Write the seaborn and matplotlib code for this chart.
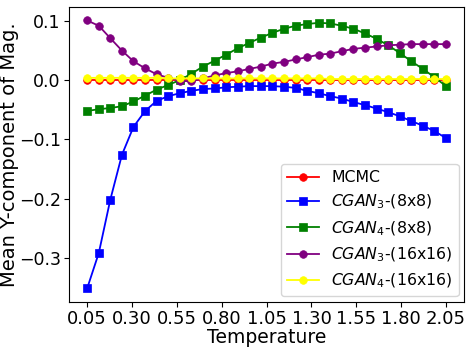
import matplotlib
matplotlib.use("Agg")
import matplotlib.pyplot as plt
import seaborn as sns
import numpy as np
import pandas as pd

temperature = [0.05, 0.115, 0.179, 0.244, 0.308, 0.373, 0.437, 0.502,
               0.566, 0.631, 0.695, 0.760, 0.824, 0.889, 0.953, 1.018,
               1.082, 1.147, 1.211, 1.276, 1.340, 1.405, 1.469, 1.534,
               1.598, 1.663, 1.727, 1.792, 1.856, 1.921, 1.985, 2.05]

mcmc = [0.000, 0.000, 0.000, 0.000, 0.000, 0.000, 0.000, 0.000,
        0.000, 0.000, 0.000, 0.000, 0.000, 0.000, 0.000, 0.000,
        0.000, 0.000, 0.000, 0.000, 0.000, 0.000, 0.000, 0.000,
        0.000, 0.000, 0.000, 0.000, 0.000, 0.000, 0.000, 0.000]

cgan3_8 = [-0.352, -0.292, -0.202, -0.126, -0.079, -0.052, -0.035, -0.027,
           -0.022, -0.018, -0.015, -0.014, -0.012, -0.011, -0.010, -0.010,
           -0.010, -0.011, -0.013, -0.018, -0.022, -0.027, -0.031, -0.037,
           -0.042, -0.048, -0.054, -0.061, -0.069, -0.077, -0.086, -0.098]

cgan4_8 = [-0.052, -0.049, -0.047, -0.044, -0.036, -0.026, -0.016, -0.008,
           0.000, 0.011, 0.023, 0.033, 0.043, 0.054, 0.063, 0.072,
           0.080, 0.087, 0.092, 0.095, 0.097, 0.096, 0.092, 0.087,
           0.079, 0.070, 0.059, 0.046, 0.032, 0.019, 0.005, -0.010]

cgan3_16 = [0.101, 0.092, 0.071, 0.050, 0.032, 0.020, 0.010, 0.004,
            -0.001, -0.002, 0.003, 0.008, 0.012, 0.015, 0.019, 0.023,
            0.028, 0.031, 0.035, 0.039, 0.043, 0.045, 0.049, 0.053,
            0.055, 0.057, 0.059, 0.060, 0.061, 0.061, 0.061, 0.061]

cgan4_16 = [0.004, 0.004, 0.004, 0.004, 0.004, 0.004, 0.004, 0.003,
            0.003, 0.003, 0.003, 0.003, 0.003, 0.003, 0.003, 0.003,
            0.003, 0.003, 0.003, 0.003, 0.003, 0.002, 0.002, 0.002,
            0.002, 0.002, 0.002, 0.002, 0.002, 0.002, 0.002, 0.002]

xticks = [0.05, 0.30, 0.55, 0.80, 1.05, 1.30, 1.55, 1.80, 2.05]
xtick_labels = ["0.05", "0.30", "0.55", "0.80", "1.05", "1.30", "1.55", "1.80", "2.05"]

series = [
    ("MCMC", mcmc, "red", "o"),
    (r"$CGAN_3$-(8x8)", cgan3_8, "blue", "s"),
    (r"$CGAN_4$-(8x8)", cgan4_8, "green", "s"),
    (r"$CGAN_3$-(16x16)", cgan3_16, "purple", "o"),
    (r"$CGAN_4$-(16x16)", cgan4_16, "yellow", "o"),
]

plt.rcParams["font.family"] = ["DejaVu Sans"]
fig, ax = plt.subplots(figsize=(4.74, 3.53), dpi=100)
fig.subplots_adjust(left=0.146, right=0.979, top=0.980, bottom=0.145)

for name, vals, color, marker in series:
    df = pd.DataFrame({"Temperature": temperature, "val": vals})
    sns.lineplot(data=df, x="Temperature", y="val", ax=ax, color=color,
                 marker=marker, markersize=5.5, markeredgewidth=0.5,
                 linewidth=1.3, label=name, markeredgecolor=color)

ax.set_xticks(xticks)
ax.set_xticklabels(xtick_labels)
ax.tick_params(axis="x", labelsize=13, pad=2.5)
ax.tick_params(axis="y", labelsize=12.5, pad=2.5)
ax.set_yticks([-0.3, -0.2, -0.1, 0.0, 0.1])
ax.set_xlabel("Temperature", fontsize=13.5, labelpad=0)
ax.set_ylabel("Mean Y-component of Mag.", fontsize=14, labelpad=0)
ax.legend(loc="lower right", fontsize=11.3, borderaxespad=0.35)
fig.savefig("out.png", dpi=100)
